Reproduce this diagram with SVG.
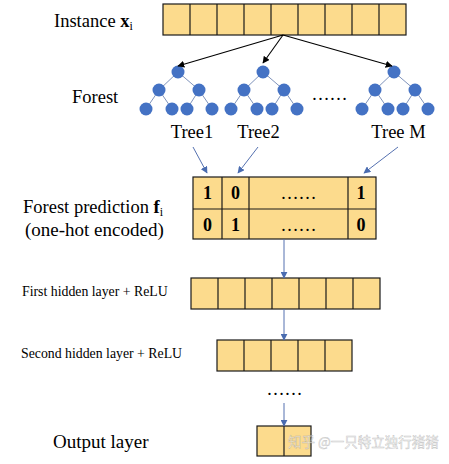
<svg xmlns="http://www.w3.org/2000/svg" width="449" height="464" viewBox="0 0 449 464">
<defs>
<style>
.cell{fill:#FCDB8D;stroke:#1a1a1a;stroke-width:1.2}
.t{font-family:"Liberation Serif","Times New Roman",serif;fill:#000}
.n{fill:#4472C4}
.e{stroke:#7f93bb;stroke-width:1}
.blk{stroke:#000;stroke-width:1.1;fill:none}
.blu{stroke:#5571b0;stroke-width:1;fill:none}
</style>
<marker id="ab" viewBox="0 0 10 10" refX="9" refY="5" markerWidth="7" markerHeight="7" orient="auto" markerUnits="userSpaceOnUse"><path d="M0,0 L10,5 L0,10 z" fill="#000"/></marker>
<marker id="ablu" viewBox="0 0 10 10" refX="9" refY="5" markerWidth="7" markerHeight="7" orient="auto" markerUnits="userSpaceOnUse"><path d="M0,0 L10,5 L0,10 z" fill="#4a6cb0"/></marker>
<g id="tree">
<line class="e" x1="0" y1="0" x2="-19" y2="18"/><line class="e" x1="0" y1="0" x2="21" y2="18"/>
<line class="e" x1="-19" y1="18" x2="-32" y2="37"/><line class="e" x1="-19" y1="18" x2="-6" y2="37"/>
<line class="e" x1="21" y1="18" x2="9" y2="37"/><line class="e" x1="21" y1="18" x2="34" y2="37"/>
<circle class="n" cx="0" cy="0" r="6.5"/>
<circle class="n" cx="-19" cy="18" r="6.5"/><circle class="n" cx="21" cy="18" r="6.5"/>
<circle class="n" cx="-32" cy="37" r="6.5"/><circle class="n" cx="-6" cy="37" r="6.5"/>
<circle class="n" cx="9" cy="37" r="6.5"/><circle class="n" cx="34" cy="37" r="6.5"/>
</g>
</defs>

<g id="instance">
<rect class="cell" x="163" y="4" width="243" height="31"/>
<path d="M190,4V35M217,4V35M244,4V35M271,4V35M298,4V35M325,4V35M352,4V35M379,4V35" stroke="#1a1a1a" stroke-width="1.2" fill="none"/>
<text class="t" x="54" y="27" font-size="18.5">Instance <tspan font-weight="bold">x</tspan><tspan font-size="12" dy="3">i</tspan></text>
</g>

<g id="forest">
<text class="t" x="72" y="103" font-size="18.5">Forest</text>
<g id="tree1"><use href="#tree" x="178" y="72"/><text class="t" x="192" y="138" font-size="18.5" text-anchor="middle">Tree1</text></g>
<g id="tree2"><use href="#tree" x="263" y="72"/><text class="t" x="258.5" y="138" font-size="18.5" text-anchor="middle">Tree2</text></g>
<text class="t" x="329.5" y="100" font-size="18" text-anchor="middle">……</text>
<g id="treeM"><use href="#tree" x="394" y="72"/><text class="t" x="398.5" y="138" font-size="18.5" text-anchor="middle">Tree M</text></g>
</g>

<g id="prediction">
<rect class="cell" x="193" y="177" width="183" height="62"/>
<path d="M193,209H376M222,177V239M249,177V239M348,177V239" stroke="#1a1a1a" stroke-width="1.2" fill="none"/>
<g class="t" font-size="18" font-weight="bold" text-anchor="middle">
<text x="207.5" y="199">1</text><text x="235.5" y="199">0</text><text x="361" y="199">1</text>
<text x="207.5" y="231">0</text><text x="235.5" y="231">1</text><text x="361" y="231">0</text>
</g>
<text class="t" x="298.5" y="199" font-size="18" text-anchor="middle">……</text>
<text class="t" x="298.5" y="231" font-size="18" text-anchor="middle">……</text>
<text class="t" x="23" y="213" font-size="18.5">Forest prediction <tspan font-weight="bold">f</tspan><tspan font-size="12" dy="3">i</tspan></text>
<text class="t" x="25" y="236" font-size="19">(one-hot encoded)</text>
</g>

<g id="hidden1">
<rect class="cell" x="191" y="278" width="189" height="31"/>
<path d="M218,278V309M245,278V309M272,278V309M299,278V309M326,278V309M353,278V309" stroke="#1a1a1a" stroke-width="1.2"/>
<text class="t" x="22" y="296" font-size="13.8">First hidden layer + ReLU</text>
</g>

<g id="hidden2">
<rect class="cell" x="217" y="340" width="135" height="31"/>
<path d="M244,340V371M271,340V371M298,340V371M325,340V371" stroke="#1a1a1a" stroke-width="1.2"/>
<text class="t" x="21" y="358" font-size="13.8">Second hidden layer + ReLU</text>
</g>

<text class="t" x="284.5" y="395" font-size="18" text-anchor="middle">……</text>

<g id="output">
<rect class="cell" x="257" y="426" width="54" height="30"/>
<path d="M284,426V456" stroke="#1a1a1a" stroke-width="1.2"/>
<text class="t" x="53" y="448" font-size="19">Output layer</text>
</g>

<g id="connectors">
<line class="blk" x1="283" y1="35" x2="178" y2="66" marker-end="url(#ab)"/>
<line class="blk" x1="283" y1="35" x2="263" y2="63" marker-end="url(#ab)"/>
<line class="blk" x1="283" y1="35" x2="392" y2="66" marker-end="url(#ab)"/>
<line class="blu" x1="193" y1="147" x2="207" y2="173" marker-end="url(#ablu)"/>
<line class="blu" x1="258" y1="147" x2="238" y2="173" marker-end="url(#ablu)"/>
<line class="blu" x1="398" y1="147" x2="364" y2="173" marker-end="url(#ablu)"/>
<line class="blu" x1="284" y1="239" x2="284" y2="278" marker-end="url(#ablu)"/>
<line class="blu" x1="284" y1="309" x2="284" y2="340" marker-end="url(#ablu)"/>
<line class="blu" x1="284" y1="403" x2="284" y2="426" marker-end="url(#ablu)"/>
</g>

<text x="288" y="447" font-family="'Noto Sans CJK SC',sans-serif" font-size="13.5" fill="#ffffff" fill-opacity="0.55" stroke="#9a9a9a" stroke-opacity="0.6" stroke-width="0.5">知乎 @一只特立独行猪猪</text>
</svg>
